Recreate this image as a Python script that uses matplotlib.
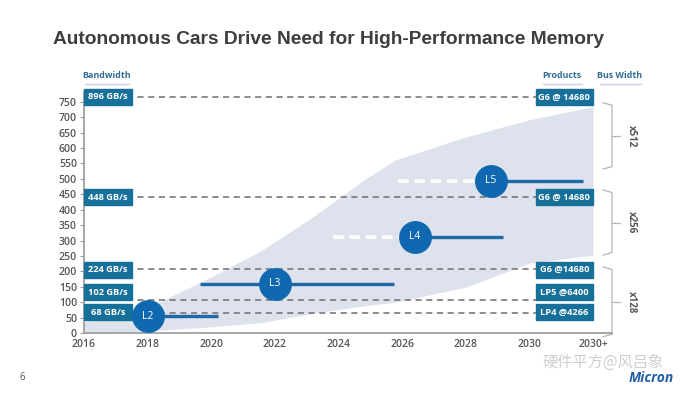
import matplotlib
matplotlib.use("Agg")
import matplotlib.pyplot as plt
from matplotlib.patches import Rectangle

plt.rcParams["font.family"] = ["Open Sans", "DejaVu Sans"]

# 数据 / chart values
years = ["2016", "2018", "2020", "2022", "2024", "2026", "2028", "2030", "2030+"]

band_x = [0, 0.8, 1.25, 2.0, 2.8, 3.6, 4.4, 4.9, 6.0, 7.0, 8.0]
band_hi = [36, 65, 107, 182, 269, 377, 497, 562, 636, 692, 734]
band_lo = [0, 4, 10, 20, 34, 64, 88, 100, 149, 227, 253]

bw_labels = ["896 GB/s", "448 GB/s", "224 GB/s", "102 GB/s", "68 GB/s"]
bw_lines = [765, 441, 208, 107, 65]
bw_label_y = [766, 441, 205, 133, 68]
products = ["G6 @ 14680", "G6 @ 14680", "G6 @14680", "LP5 @6400", "LP4 @4266"]

levels = ["L2", "L3", "L4", "L5"]
level_x = [1.0, 3.0, 5.2, 6.4]
level_y = [55, 159, 312, 494]
solid_start = [1.0, 1.83, 5.2, 6.4]
solid_end = [2.1, 4.87, 6.58, 7.84]
dash_start = [None, None, 3.92, 4.93]

bus_widths = ["x512", "x256", "x128"]
bus_top = [747, 464, 214]
bus_bottom = [532, 253, -12]

# 颜色 / colours
box_col = "#17709a"
circle_col = "#0f68b0"
line_col = "#1c69a6"
band_col = "#dde2ec"
head_col = "#2f6d94"

fig = plt.figure(figsize=(7, 3.94), dpi=100)
ax = fig.add_axes([84 / 700, 61 / 394, 528 / 700, 241 / 394])
ax.set_xlim(0, 8.3)
ax.set_ylim(0, 782)

ax.fill_between(band_x, band_lo, band_hi, color=band_col, lw=0, zorder=0)

# 虚线 / dashed bandwidth lines
for y in bw_lines:
    ax.plot([0, 7.95], [y, y], ls=(0, (4, 3)), color="#6e6e6e", lw=1.1, zorder=1)

# 左右标签 / label boxes
for lab, y in zip(bw_labels, bw_label_y):
    ax.add_patch(Rectangle((0.0, y - 26), 0.755, 52, color=box_col, zorder=3, clip_on=False))
    ax.text(0.377, y, lab, color="white", fontsize=6.7, fontweight="bold",
            ha="center", va="center", zorder=4)
for lab, y in zip(products, bw_label_y):
    ax.add_patch(Rectangle((7.1, y - 26), 0.9, 52, color=box_col, zorder=3, clip_on=False))
    ax.text(7.55, y, lab, color="white", fontsize=6.7, fontweight="bold",
            ha="center", va="center", zorder=4)

# 自动驾驶等级 / autonomy levels
for lab, cx, cy, s0, s1, d0 in zip(levels, level_x, level_y, solid_start, solid_end, dash_start):
    if d0 is not None:
        ax.plot([d0, cx], [cy, cy], color="white", lw=2.6, ls=(0, (3, 1.5)), zorder=2)
    ax.plot([s0, s1], [cy, cy], color=line_col, lw=2.4, solid_capstyle="butt", zorder=2)
    ax.scatter([cx], [cy], s=560, color=circle_col, zorder=5, linewidths=0)
    ax.text(cx, cy, lab, color="white", fontsize=7.5, ha="center", va="center", zorder=6)

# 总线宽度括号 / bus width brackets
for lab, top, bot in zip(bus_widths, bus_top, bus_bottom):
    mid = (top + bot) / 2
    ax.plot([8.16, 8.3, 8.3, 8.16], [top, top - 8, bot + 8, bot],
            color="#b5b5b5", lw=0.9, clip_on=False)
    ax.plot([8.3, 8.42], [mid, mid], color="#b5b5b5", lw=0.9, clip_on=False)
    ax.text(8.6, mid, lab, rotation=270, fontsize=7, fontweight="bold", color="#555555",
            ha="center", va="center", clip_on=False)

# 坐标轴 / axes
ax.set_xticks(range(len(years)))
ax.set_xticklabels(years)
ax.set_yticks(range(0, 751, 50))
ax.tick_params(axis="x", length=0, pad=4, labelsize=7.5, labelcolor="#555555")
ax.tick_params(axis="y", length=3, width=0.8, color="#999999", pad=2,
               labelsize=7.6, labelcolor="#555555")
for t in ax.get_xticklabels() + ax.get_yticklabels():
    t.set_fontweight("semibold")
for side in ["top", "right"]:
    ax.spines[side].set_visible(False)
for side in ["left", "bottom"]:
    ax.spines[side].set_color("#a0a0a0")
    ax.spines[side].set_linewidth(1.3)

# 标题与表头 / title and headers
fig.text(53 / 700, 1 - 40 / 394, "Autonomous Cars Drive Need for High-Performance Memory",
         family="Liberation Sans", fontweight="bold", fontsize=13.8, color="#3d3d3d",
         va="center", ha="left")
for txt, xc, x0, x1 in [("Bandwidth", 107, 85, 129), ("Products", 562, 543, 582),
                        ("Bus Width", 620, 600, 641)]:
    fig.text(xc / 700, 1 - 75 / 394, txt, fontsize=6.4, fontweight="bold",
             color=head_col, ha="center", va="center")
    fig.add_artist(plt.Line2D([x0 / 700, x1 / 700], [1 - 84 / 394, 1 - 84 / 394],
                              color="#c9d6e2", lw=1))

fig.text(22 / 700, 1 - 378 / 394, "6", fontsize=7, color="#555555", ha="center", va="center")
fig.text(603 / 700, 1 - 362 / 394, "硬件平方@风吕象", family=["Noto Sans CJK SC", "DejaVu Sans"],
         fontsize=11, color="#cfcfcf", ha="center", va="center")
fig.text(651 / 700, 1 - 378 / 394, "Micron", fontsize=10, fontweight="bold",
         style="italic", color="#1f5fa6", ha="center", va="center")

fig.savefig("out.png", dpi=100)
